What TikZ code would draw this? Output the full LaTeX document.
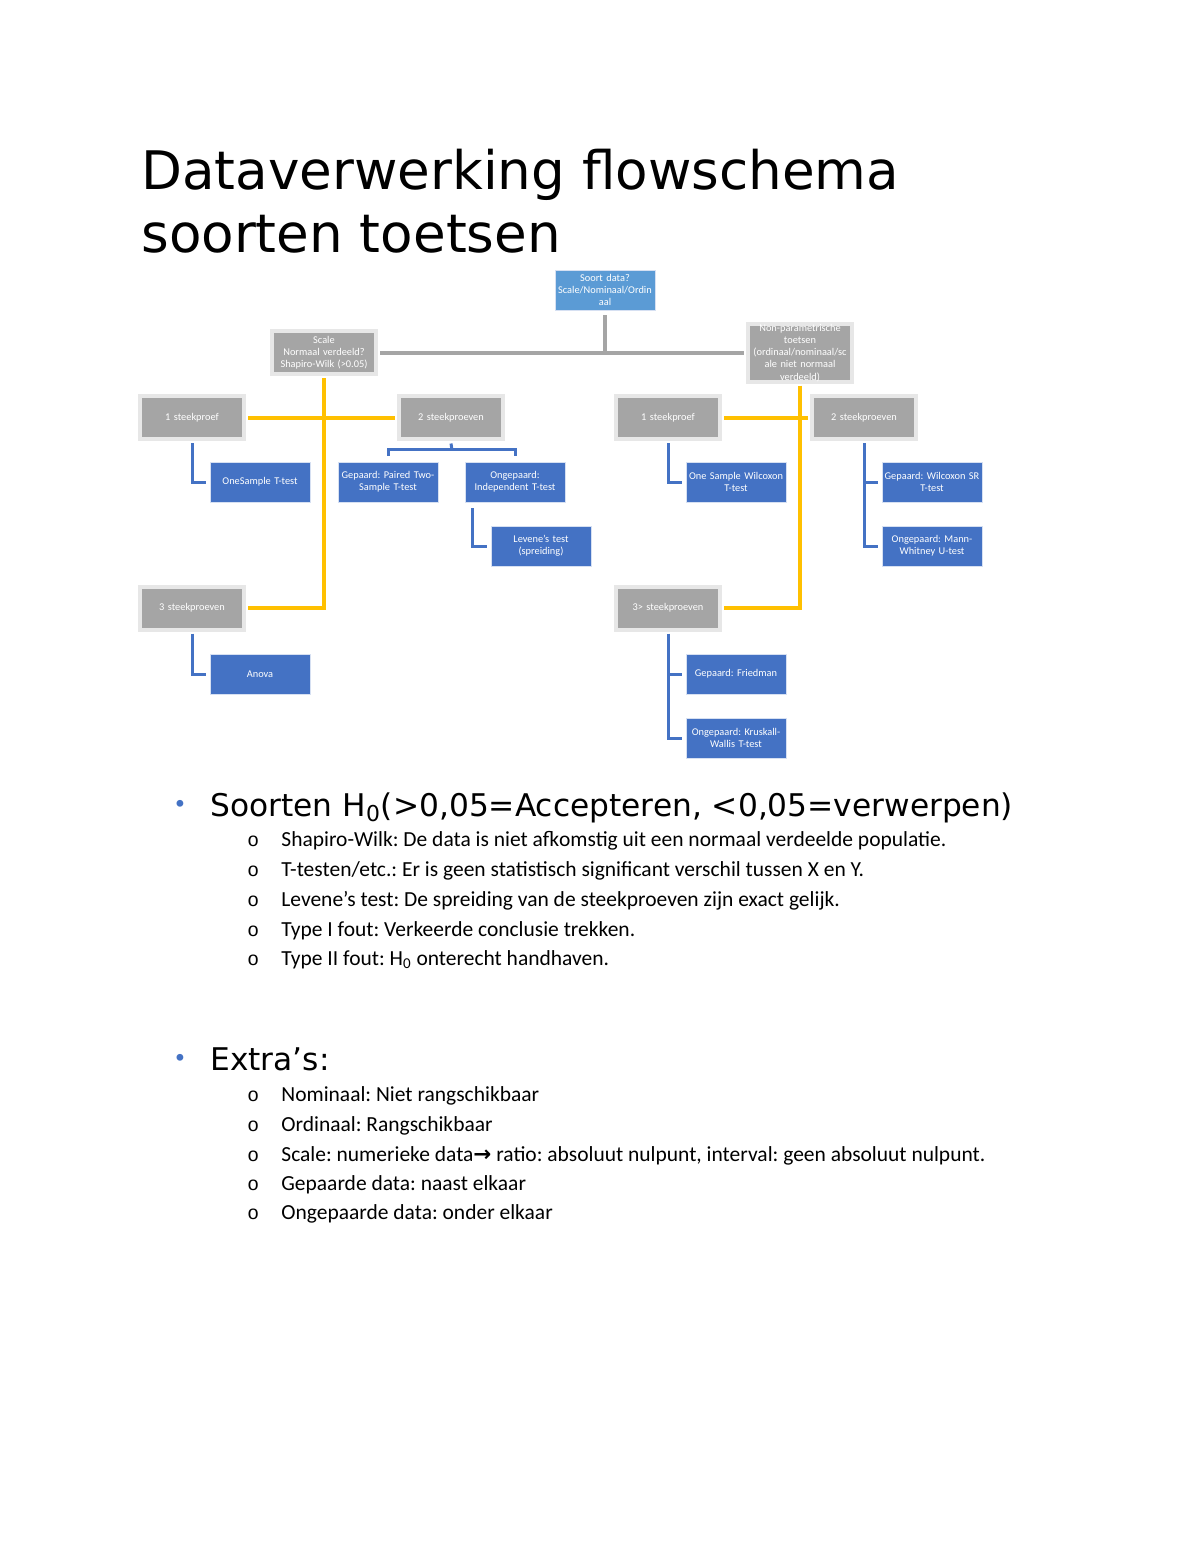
\documentclass[tikz,border=0pt]{standalone}
\usepackage{fontspec}
\setmainfont{Carlito}
\newfontfamily\djv{DejaVu Sans}
\newfontfamily\cour{Liberation Mono}
\usetikzlibrary{calc}
\definecolor{grayfill}{HTML}{A5A5A5}
\definecolor{grayedge}{HTML}{E7E7E7}
\definecolor{topblue}{HTML}{5B9BD5}
\definecolor{bluefill}{HTML}{4472C4}
\definecolor{blueedge}{HTML}{D6E0F2}
\definecolor{yel}{HTML}{FFC000}
\def\u{0.51bp}
\newcommand\bxfont{\fontsize{5.3}{6.2}\selectfont}
\frenchspacing
\begin{document}
\frenchspacing
\begin{tikzpicture}[x=0.51bp,y=-0.51bp,
  gbox/.style={draw=grayedge, line width=4*\u, fill=grayfill, minimum width=104*\u,
    minimum height=43*\u, inner sep=0pt, text=white, font=\bxfont, align=center, text width=98*\u},
  bbox/.style={draw=blueedge, line width=0.5bp, fill=bluefill, minimum width=100*\u,
    minimum height=40*\u, inner sep=0pt, text=white, font=\bxfont, align=center, text width=98*\u},
  tbox/.style={bbox, fill=topblue},
  gline/.style={draw=grayfill, line width=4*\u},
  yline/.style={draw=yel, line width=4*\u},
  bline/.style={draw=bluefill, line width=3*\u},
  txt/.style={anchor=base west, inner sep=0pt, font=\fontsize{11}{13}\selectfont},
  sub/.style={anchor=base west, inner sep=0pt, font=\cour\fontsize{10}{12}\selectfont},
  bul/.style={inner sep=0pt, text=bluefill, font=\djv\fontsize{12}{14}\selectfont},
  head/.style={anchor=base west, inner sep=0pt, font=\djv\fontsize{16}{19}\selectfont},
  ttl/.style={anchor=base west, inner sep=0pt, font=\djv\fontsize{27.2}{31}\selectfont}
]
\useasboundingbox (0,0) rectangle (1200,1553);

% title
\node[ttl] (t1) at (141,190) {Dataverwerking flowschema};
\node[ttl] (t2) at (141,253) {soorten toetsen};

% top level
\node[tbox] (top) at (605,290) {Soort data?\\Scale/Nominaal/Ordin\\aal};
\node[gbox] (scale) at (324,353) {Scale\\Normaal verdeeld?\\Shapiro-Wilk (>0.05)};
\node[gbox] (nonpar) at (800,353) {Non-parametrische\\toetsen\\(ordinaal/nominaal/sc\\ale niet normaal\\verdeeld)};

% left side
\node[gbox] (oneL) at (192,418) {1 steekproef};
\node[gbox] (twoL) at (451,418) {2 steekproeven};
\node[gbox] (threeL) at (192,608) {3 steekproeven};
\node[bbox] (ost) at (260,482) {OneSample T-test};
\node[bbox] (paired) at (388,482) {Gepaard: Paired Two-\\Sample T-test};
\node[bbox] (indep) at (515,482) {Ongepaard:\\Independent T-test};
\node[bbox] (levene) at (541,546) {Levene's test\\(spreiding)};
\node[bbox] (anova) at (260,674) {Anova};

% right side
\node[gbox] (oneR) at (668,418) {1 steekproef};
\node[gbox] (twoR) at (864,418) {2 steekproeven};
\node[gbox] (threeR) at (668,608) {3> steekproeven};
\node[bbox] (osw) at (736,482) {One Sample Wilcoxon\\T-test};
\node[bbox] (wsr) at (932,482) {Gepaard: Wilcoxon SR\\T-test};
\node[bbox] (mwu) at (932,546) {Ongepaard: Mann-\\Whitney U-test};
\node[bbox] (fried) at (736,674) {Gepaard: Friedman};
\node[bbox] (kw) at (736,738) {Ongepaard: Kruskall-\\Wallis T-test};

% grey connectors
\draw[gline] ($(top.south)+(0,5)$) -- (top.south |- scale.east);
\draw[gline] ([xshift=2*\u]scale.east) -- ([xshift=-2*\u]nonpar.west);

% yellow connectors
\draw[yline] ([yshift=-2*\u]scale.south) -- (scale.south |- threeL.east) -- ([xshift=2*\u]threeL.east);
\draw[yline] ([xshift=2*\u]oneL.east) -- ([xshift=-2*\u]twoL.west);
\draw[yline] ([yshift=-2*\u]nonpar.south) -- (nonpar.south |- threeR.east) -- ([xshift=2*\u]threeR.east);
\draw[yline] ([xshift=2*\u]oneR.east) -- ([xshift=-2*\u]twoR.west);

% blue connectors left
\draw[bline] ([yshift=-2*\u]oneL.south) |- ([xshift=-4*\u]ost.west);
\coordinate (brk) at (452,450);
\draw[bline] ([yshift=-2*\u]twoL.south) -- (brk);
\draw[bline] ($(paired.north)+(0,-6)$) |- (brk) -| ($(indep.north)+(0,-6)$);
\draw[bline] ($(indep.south west)+(8,6)$) |- ([xshift=-4*\u]levene.west);
\draw[bline] ([yshift=-2*\u]threeL.south) |- ([xshift=-4*\u]anova.west);

% blue connectors right
\draw[bline] ([yshift=-2*\u]oneR.south) |- ([xshift=-4*\u]osw.west);
\draw[bline] ([yshift=-2*\u]twoR.south) |- ([xshift=-4*\u]mwu.west);
\draw[bline] (twoR.south |- wsr.west) -- ([xshift=-4*\u]wsr.west);
\draw[bline] ([yshift=-2*\u]threeR.south) |- ([xshift=-4*\u]kw.west);
\draw[bline] (threeR.south |- fried.west) -- ([xshift=-4*\u]fried.west);

% text section 1
\node[bul] (b1) at (180,806) {•};
\node[head] (h1) at (210,816) {Soorten H\textsubscript{0}(>0,05=Accepteren, <0,05=verwerpen)};
\node[sub] (o1) at (247,846) {o};
\node[txt] (s1) at (281,846) {Shapiro-Wilk: De data is niet afkomstig uit een normaal verdeelde populatie.};
\node[sub] (o2) at (247,876) {o};
\node[txt] (s2) at (281,876) {T-testen/etc.: Er is geen statistisch significant verschil tussen X en Y.};
\node[sub] (o3) at (247,906) {o};
\node[txt] (s3) at (281,906) {Levene’s test: De spreiding van de steekproeven zijn exact gelijk.};
\node[sub] (o4) at (247,936) {o};
\node[txt] (s4) at (281,936) {Type I fout: Verkeerde conclusie trekken.};
\node[sub] (o5) at (247,965) {o};
\node[txt] (s5) at (281,965) {Type II fout: H\textsubscript{0} onterecht handhaven.};

% text section 2
\node[bul] (b2) at (180,1060) {•};
\node[head] (h2) at (210,1070) {Extra’s:};
\node[sub] (p1) at (247,1101) {o};
\node[txt] (e1) at (281,1101) {Nominaal: Niet rangschikbaar};
\node[sub] (p2) at (247,1131) {o};
\node[txt] (e2) at (281,1131) {Ordinaal: Rangschikbaar};
\node[sub] (p3) at (247,1161) {o};
\node[txt] (e3) at (281,1161) {Scale: numerieke data{\djv\bfseries →} ratio: absoluut nulpunt, interval: geen absoluut nulpunt.};
\node[sub] (p4) at (247,1190) {o};
\node[txt] (e4) at (281,1190) {Gepaarde data: naast elkaar};
\node[sub] (p5) at (247,1219) {o};
\node[txt] (e5) at (281,1219) {Ongepaarde data: onder elkaar};
\end{tikzpicture}
\end{document}
